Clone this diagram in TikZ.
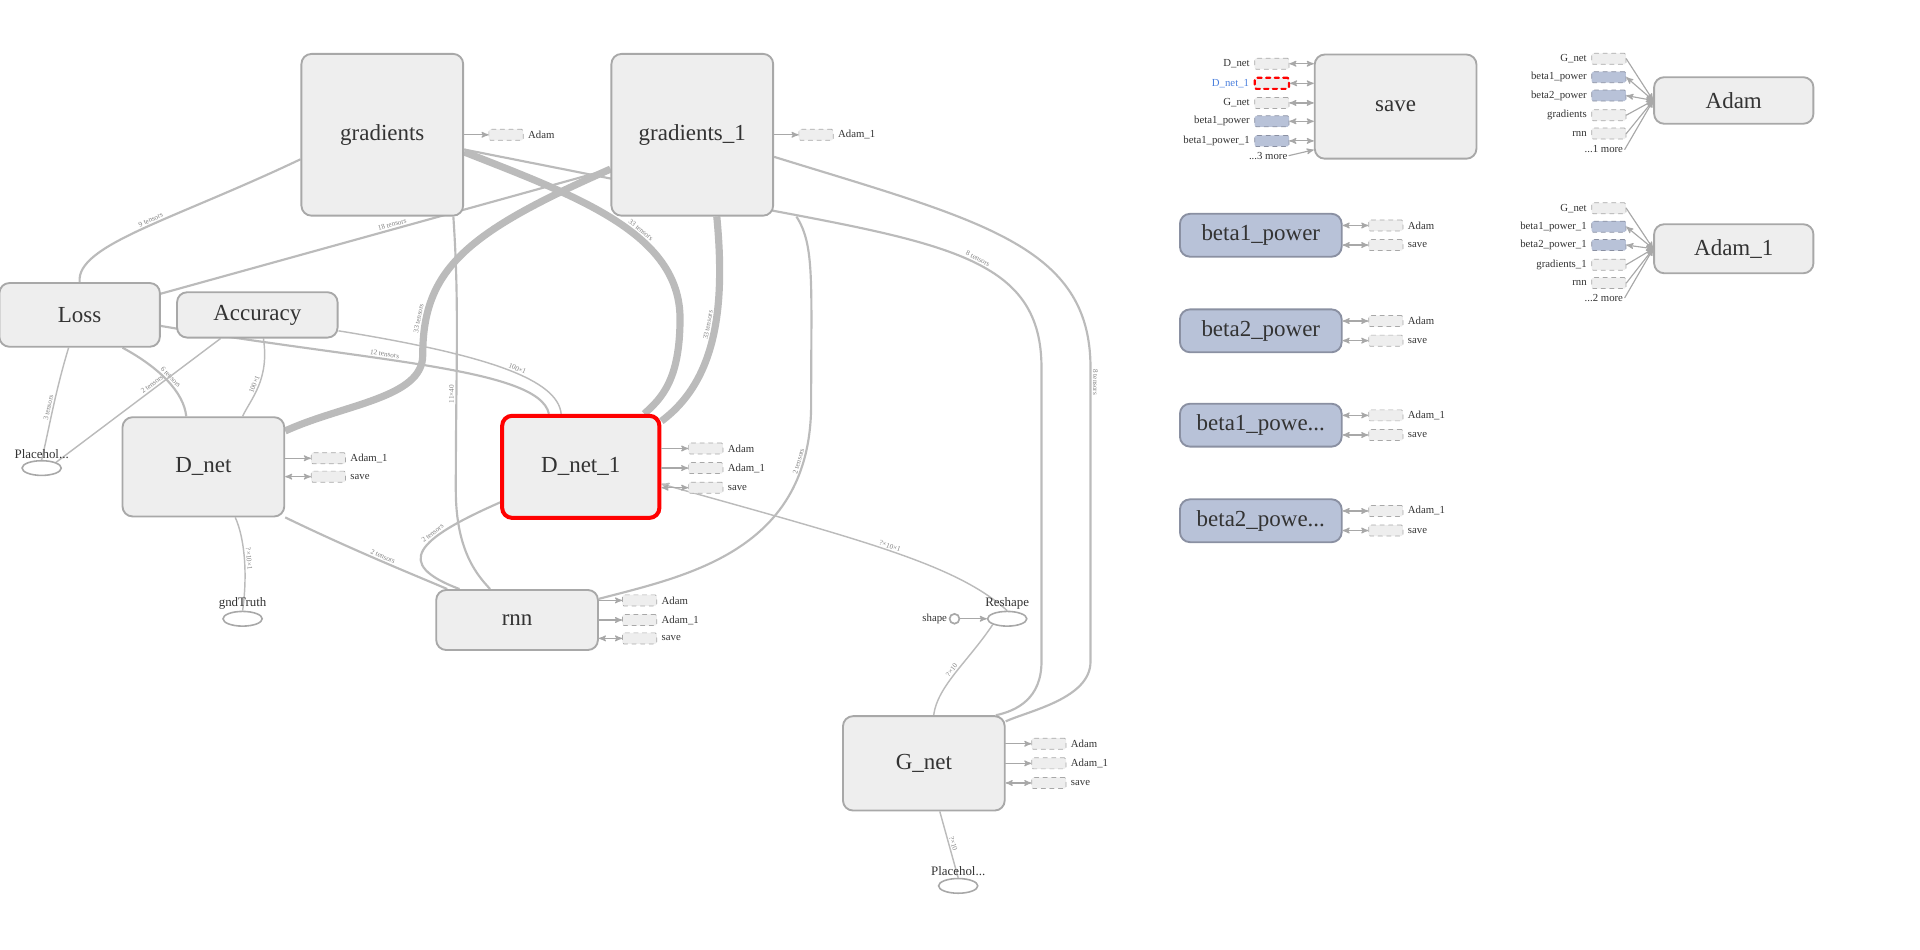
\documentclass[tikz,border=0pt]{standalone}
\usepackage{fontspec}
\setmainfont{Liberation Serif}
\usetikzlibrary{positioning,calc,arrows,shapes.geometric}
\definecolor{opfill}{HTML}{EEEEEE}
\definecolor{opline}{HTML}{A8A8A8}
\definecolor{edge}{HTML}{BBBBBB}
\definecolor{blueop}{HTML}{B8C2D8}
\definecolor{blueline}{HTML}{8A90A2}
\definecolor{txt}{HTML}{333333}
\definecolor{sel}{HTML}{4A7FDD}
\pgfdeclarelayer{bg}
\pgfsetlayers{bg,main}
\begin{document}
\begin{tikzpicture}[x=0.03cm, y=-0.03cm, >=stealth', line cap=round,
  op/.style={draw=opline, fill=opfill, line width=1.3pt, rounded corners=7pt,
    inner sep=0pt, text=txt, font=\fontsize{16}{16}\selectfont, minimum width=3.96cm},
  blue/.style={op, draw=blueline, fill=blueop},
  hot/.style={op, draw=red, line width=2.8pt},
  stub/.style={draw=opline, dashed, fill=opfill, line width=0.5pt, inner sep=0pt,
    minimum width=0.84cm, minimum height=0.27cm, rounded corners=1pt},
  bstub/.style={stub, fill=blueop, draw=blueline},
  rstub/.style={stub, draw=red, line width=1.5pt},
  sm/.style={font=\fontsize{7.5}{7.5}\selectfont, text=txt, inner sep=1pt},
  phl/.style={font=\fontsize{9}{9}\selectfont, text=txt, inner sep=1pt},
  ph/.style={ellipse, draw=opline, fill=white, line width=1.1pt, minimum width=0.96cm, minimum height=0.36cm, inner sep=0pt},
  e/.style={draw=edge, line width=1.5pt},
  ethin/.style={draw=edge, line width=1pt},
  thick edge/.style={draw=edge, line width=5pt},
  small/.style={draw=opline, line width=0.8pt},
  lbl/.style={font=\fontsize{5}{5}\selectfont, text=gray, sloped, inner sep=1pt, above}]
\useasboundingbox (0,0) rectangle (1567,775);

% main ops
\node[op, minimum height=3.96cm] (grad) at (312,110) {gradients};
\node[op, minimum height=3.96cm] (grad1) at (565,110) {gradients\_1};
\node[op, minimum width=3.93cm, minimum height=1.56cm] (loss) at (65,257) {Loss};
\node[op, minimum width=3.93cm, minimum height=1.11cm] (acc) at (210,257) {Accuracy};
\node[op, minimum height=2.43cm] (dnet) at (166,381) {D\_net};
\node[hot, minimum height=2.5cm, minimum width=3.85cm] (dnet1) at (474,381) {D\_net\_1};
\node[op, minimum height=1.47cm] (rnn) at (422,506) {rnn};
\node[op, minimum height=2.31cm] (gnet) at (754,623) {G\_net};
\node[op, minimum height=2.55cm] (save) at (1139,87) {save};
\node[op, minimum width=3.9cm, minimum height=1.14cm] (adam) at (1415,82) {Adam};
\node[op, minimum width=3.9cm, minimum height=1.2cm] (adam1) at (1415,203) {Adam\_1};
\node[blue, minimum height=1.05cm] (b1) at (1029,192) {beta1\_power};
\node[blue, minimum height=1.05cm] (b2) at (1029,270) {beta2\_power};
\node[blue, minimum height=1.05cm] (b1a) at (1029,347) {beta1\_powe...};
\node[blue, minimum height=1.05cm] (b2a) at (1029,425) {beta2\_powe...};

% placeholders
\node[ph] (ph1) at (34,382) {};
\node[phl, above=0pt of ph1] {Placehol...};
\node[ph] (gnd) at (198,505) {};
\node[phl, above=0pt of gnd] {gndTruth};
\node[ph] (resh) at (822,505) {};
\node[phl, above=0pt of resh] {Reshape};
\node[ph] (ph2) at (782,723) {};
\node[phl, above=0pt of ph2] {Placehol...};
\node[circle, draw=opline, line width=1.2pt, minimum size=0.24cm, inner sep=0pt] (shape) at (779,505) {};
\node[sm, left=0pt of shape] {shape};
\draw[small, ->] (shape) -- (resh);

% edges
\begin{pgfonlayer}{bg}
\draw[e] ($(grad.west)+(0,20)$) .. controls (140,180) and (62,200) .. (loss.north) node[lbl, pos=.45] {9 tensors};
\draw[e] ($(grad1.west)+(0,28)$) -- ($(loss.north east)+(-2,10)$) node[lbl, pos=.48] {18 tensors};
\draw[thick edge] ($(grad1.west)+(0,28)$) .. controls (380,190) and (345,220) .. (345,290) node[lbl, pos=.85] {33 tensors} .. controls (345,325) and (280,330) .. ($(dnet.north east)+(0,12)$);
\draw[thick edge] ($(grad.east)+(0,14)$) .. controls (470,160) and (555,190) .. (555,260) node[lbl, pos=.6] {33 tensors} .. controls (555,310) and (540,325) .. ($(dnet1.north east)+(-14,0)$);
\draw[thick edge] ($(grad1.south)+(20,0)$) .. controls (592,250) and (585,310) .. ($(dnet1.north east)+(0,6)$) node[lbl, pos=.45] {33 tensors};
\draw[e] ($(grad.south)+(58,0)$) .. controls (375,250) and (372,300) .. (372,400) node[lbl, pos=.7] {11×40} .. controls (372,450) and (390,470) .. ($(rnn.north)+(-22,0)$);
\draw[e] ($(grad1.south)+(85,0)$) .. controls (665,200) and (662,230) .. (662,330) .. controls (662,450) and (560,470) .. ($(rnn.north east)+(0,8)$) node[lbl, pos=.15] {2 tensors};
\draw[e] ($(grad.east)+(0,12)$) -- (631,172) .. controls (780,200) and (850,215) .. (850,300) node[lbl, pos=.5] {8 tensors} -- (850,540) .. controls (850,570) and (830,580) .. ($(gnet.north east)+(-8,0)$);
\draw[e] ($(grad1.east)+(0,18)$) .. controls (800,180) and (890,200) .. (890,300) -- (890,540) node[lbl, pos=.05] {8 tensors} .. controls (890,570) and (840,580) .. ($(gnet.north east)+(0,5)$);
\draw[e] ($(loss.south)+(35,0)$) .. controls (130,300) and (150,320) .. ($(dnet.north)+(-14,0)$) node[lbl, pos=.5] {6 tensors};
\draw[e] ($(loss.east)+(0,9)$) .. controls (300,295) and (440,300) .. ($(dnet1.north)+(-26,0)$) node[lbl, pos=.4] {12 tensors};
\draw[ethin] ($(acc.east)+(0,13)$) .. controls (400,290) and (455,310) .. ($(dnet1.north)+(-16,0)$) node[lbl, pos=.55] {100×1};
\draw[ethin] ($(acc.south)+(5,0)$) .. controls (220,310) and (205,325) .. ($(dnet.north)+(32,0)$) node[lbl, pos=.5] {100×1};
\draw[ethin] ($(acc.south)+(-30,0)$) -- (ph1.north east) node[lbl, pos=.4] {2 tensors};
\draw[ethin] ($(loss.south)+(-9,0)$) .. controls (45,320) and (40,350) .. (ph1.north) node[lbl, pos=.5] {3 tensors};
\draw[ethin] ($(dnet.south)+(26,0)$) .. controls (200,440) and (202,470) .. (gnd.north) node[lbl, pos=.5] {?×10×1};
\draw[e] (dnet.south east) .. controls (290,450) and (340,470) .. ($(rnn.north)+(-57,0)$) node[lbl, pos=.5] {2 tensors};
\draw[e] ($(dnet1.west)+(0,29)$) .. controls (340,440) and (320,460) .. ($(rnn.north)+(-47,0)$) node[lbl, pos=.35] {2 tensors};
\draw[ethin, ->] (resh.north) .. controls (780,460) and (700,440) .. ($(dnet1.east)+(0,14)$) node[lbl, pos=.5] {?×10×1};
\draw[ethin] (resh.south west) .. controls (790,540) and (765,560) .. ($(gnet.north)+(8,0)$) node[lbl, pos=.5] {?×10};
\draw[ethin] ($(gnet.south)+(13,0)$) -- (ph2.north) node[lbl, pos=.5] {?×10};
\end{pgfonlayer}

% output stubs of the main ops
\node[stub] (s1) at (413,110) {}; \node[sm, right=2pt of s1] {Adam};
\draw[small,->] (grad.east |- s1) -- (s1.west);
\node[stub] (s2) at (666,110) {}; \node[sm, right=2pt of s2] {Adam\_1};
\draw[small,->] (grad1.east |- s2) -- (s2.west);
\foreach \src/\x/\ys/\labs in {dnet/268/374/{Adam\_1}, dnet1/576/366/{Adam,Adam\_1}, rnn/522/490/{Adam,Adam\_1}, gnet/856/607/{Adam,Adam\_1}} {
  \foreach \l [count=\i from 0] in \labs {
    \node[stub] (t) at (\x,\ys+16*\i) {};
    \node[sm, right=2pt of t] {\l};
    \draw[small,->] (\src.east |- t) -- (t.west);
  }
}
\foreach \src/\x/\y in {dnet/268/389, dnet1/576/398, rnn/522/521, gnet/856/639} {
  \node[stub] (t) at (\x,\y) {};
  \node[sm, right=2pt of t] {save};
  \draw[small,<->] (\src.east |- t) -- (t.west);
}

% beta stubs
\foreach \b/\y/\l in {b1/192/Adam, b2/270/Adam, b1a/347/Adam\_1, b2a/425/Adam\_1} {
  \node[stub] (u) at (1131,\y-8) {}; \node[sm, right=2pt of u] {\l};
  \draw[small,<->] (\b.east |- u) -- (u.west);
  \node[stub] (v) at (1131,\y+8) {}; \node[sm, right=2pt of v] {save};
  \draw[small,<->] (\b.east |- v) -- (v.west);
}

% save inputs
\foreach \y/\l/\s/\c in {52/D\_net/stub/txt, 68/D\_net\_1/rstub/sel, 84/G\_net/stub/txt, 99/beta1\_power/bstub/txt, 115/beta1\_power\_1/bstub/txt} {
  \node[\s] (w) at (1038,\y) {};
  \node[sm, text=\c, left=2pt of w] {\l};
  \draw[small,<->] (w.east) -- (save.west |- w);
}
\node[sm, anchor=east] (more0) at (1052,127) {...3 more};
\draw[small,->] (more0.east) -- ($(save.south west)+(0,-8)$);

% Adam inputs
\foreach \y/\l/\s/\a in {48/G\_net/stub/->, 63/beta1\_power/bstub/<->, 78/beta2\_power/bstub/<->, 94/gradients/stub/->, 109/rnn/stub/->} {
  \node[\s] (w) at (1313,\y) {};
  \node[sm, left=2pt of w] {\l};
  \draw[small,\a] (w.east) -- (adam.west);
}
\node[sm, anchor=east] (more1) at (1326,122) {...1 more};
\draw[small,->] (more1.east) -- (adam.west);
\foreach \y/\l/\s/\a in {170/G\_net/stub/->, 185/beta1\_power\_1/bstub/<->, 200/beta2\_power\_1/bstub/<->, 216/gradients\_1/stub/->, 231/rnn/stub/->} {
  \node[\s] (w) at (1313,\y) {};
  \node[sm, left=2pt of w] {\l};
  \draw[small,\a] (w.east) -- (adam1.west);
}
\node[sm, anchor=east] (more2) at (1326,243) {...2 more};
\draw[small,->] (more2.east) -- (adam1.west);
\end{tikzpicture}
\end{document}
